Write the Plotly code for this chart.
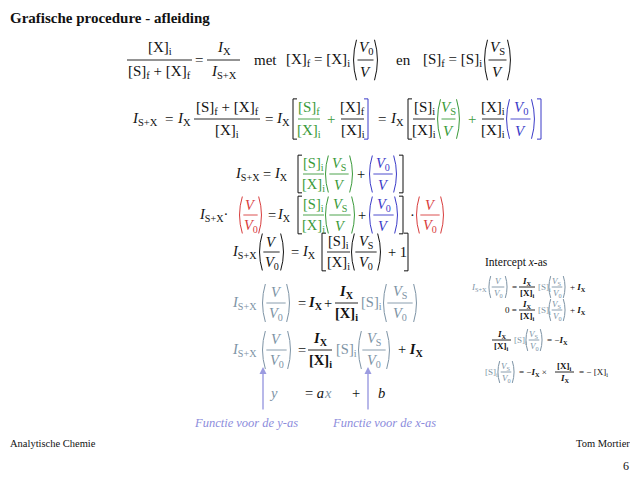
import plotly.graph_objects as go

SERIF = "Liberation Serif, Times New Roman, Times, serif"
PALETTE = {"k": "#111111", "g": "#3a9a3a", "b": "#3a3ac8", "r": "#d83c3c",
           "s": "#7d93a5", "p": "#8c8cdc"}

# building blocks of the formulas
IX = "<i>I</i><sub>X</sub>"
ISX = "<i>I</i><sub>S+X</sub>"
Xi, Xf = "[X]<sub>i</sub>", "[X]<sub>f</sub>"
Si, Sf = "[S]<sub>i</sub>", "[S]<sub>f</sub>"
V, V0, VS = "<i>V</i>", "<i>V</i><sub>0</sub>", "<i>V</i><sub>S</sub>"
bIX, bXi = "<b>" + IX + "</b>", "<b>" + Xi + "</b>"

title = "<b>Grafische procedure - afleiding</b>"
footer_left = "Analytische Chemie"
footer_right = "Tom Mortier"
page_no = "6"
axis_labels = ["Functie voor de y-as", "Functie voor de x-as"]
intercept_title = "Intercept <i>x</i>-as"

# rows: tokens ("a|b" = fraction, "(a|b)" = fraction in brackets, "[" / "]" = big brackets)
row1 = [f"{Xi}|{Sf} + {Xf}", "=", f"{IX}|{ISX}", "met", f"{Xf} = {Xi}", f"({V0}|{V})",
        "en", f"{Sf} = {Si}", f"({VS}|{V})"]
row2 = [ISX, "=", IX, f"{Sf} + {Xf}|{Xi}", "=", IX, "[", f"{Sf}|{Xi}", "+", f"{Xf}|{Xi}", "]",
        "=", IX, "[", f"{Si}|{Xi}", f"({VS}|{V})", "+", f"{Xi}|{Xi}", f"({V0}|{V})", "]"]
row3 = [ISX, "=", IX, "[", f"{Si}|{Xi}", f"({VS}|{V})", "+", f"({V0}|{V})", "]"]
row4 = [ISX + "·", f"({V}|{V0})", "=", IX, "[", f"{Si}|{Xi}", f"({VS}|{V})", "+", f"({V0}|{V})",
        "]", "·", f"({V}|{V0})"]
row5 = [ISX, f"({V}|{V0})", "=", IX, "[", f"{Si}|{Xi}", f"({VS}|{V0})", "+ 1", "]"]
row6 = [ISX, f"({V}|{V0})", "=", bIX, "+", f"{bIX}|{bXi}", Si, f"({VS}|{V0})"]
row7 = [ISX, f"({V}|{V0})", "=", f"{bIX}|{bXi}", Si, f"({VS}|{V0})", "+ " + bIX]
row8 = ["<i>y</i>", "= <i>a</i>", "<i>x</i>", "+", "<i>b</i>"]
side1 = [ISX, f"({V}|{V0})", "=", f"{bIX}|{bXi}", Si, f"({VS}|{V0})", "+ " + bIX]
side2 = ["0 =", f"{bIX}|{bXi}", Si, f"({VS}|{V0})", "+ " + bIX]
side3 = [f"{bIX}|{bXi}", Si, f"({VS}|{V0})", "= −" + bIX]
side4 = [Si, f"({VS}|{V0})", "= −" + bIX + " ×", f"{bXi}|{bIX}", "= − " + Xi]

# x positions (pixels) and colours of the tokens
row1_x = [(127, 192), 193, (207, 240), 252, 284, (352, 379), 394, 421, (483, 512)]
row2_x = [130, 163, 175, (194, 260), 263, 274, 293, (298, 320), 325, (341, 364), 368,
          376, 388, 408, (413, 435), (436, 461), 466, (482, 504), (505, 536), 541]
row3_x = [233, 261, 272, 298, (303, 324), (324, 354), 355, (368, 398), 403]
row4_x = [197, (238, 263), 266, 275, 298, (303, 324), (324, 356), 356, (368, 399), 403, 408,
          (415, 445)]
row5_x = [230, (258, 285), 289, 300, 322, (327, 350), (350, 382), 386, 408]
row6_x = [230, (261, 291), 296, 306, 322, (335, 358), 359, (382, 418)]
row7_x = [230, (261, 292), 296, (308, 332), 334, (357, 391), 396]
row8_x = [267, 303, 322, 350, 376]
side1_x = [469, (488, 508), 510, (519, 535), 536, (548, 566), 568]
side2_x = [503, (519, 535), 536, (548, 566), 568]
side3_x = [(492, 511), 512, (525, 543), 545]
side4_x = [483, (497, 515), 517, (555, 574), 577]

row1_c = ["k"] * 9
row2_c = list("kkkkkkkggkbkkkkggkbbk")
row3_c = list("kkkkggkbk")
row4_c = list("krkkkggkbkkr")
row5_c = ["k"] * 9
row6_c = list("sskkkkss")
row7_c = list("sskkssk")
row8_c = list("skskk")
side1_c = list("sskkssk")
side2_c = list("kkssk")
side3_c = list("kssk")
side4_c = list("sskkk")

annotations = []
shapes = []


def put(x, y, s, size, color, anchor="left"):
    annotations.append(dict(x=x, y=y, xref="x", yref="y", text=s, showarrow=False,
                            xanchor=anchor, yanchor="middle",
                            font=dict(family=SERIF, size=size, color=color)))


def frac(x0, x1, y, num, den, size, color, gap):
    put((x0 + x1) / 2, y - gap, num, size, color, "center")
    put((x0 + x1) / 2, y + gap, den, size, color, "center")
    shapes.append(dict(type="line", xref="x", yref="y", x0=x0, x1=x1, y0=y, y1=y,
                       line=dict(color=color, width=0.9)))


def paren(x0, x1, y, num, den, size, color, gap):
    h = gap * 2 + size * 1.1
    w = size * 0.3
    for xa, xb in ((x0 + w, x0 - w * 0.3), (x1 - w, x1 + w * 0.3)):
        shapes.append(dict(type="path", xref="x", yref="y",
                           path=f"M {xa},{y - h / 2} Q {xb},{y} {xa},{y + h / 2}",
                           line=dict(color=color, width=1.0)))
    frac(x0 + w + 1, x1 - w - 1, y, num, den, size, color, gap)


def bracket(x, y, side, size, color, gap):
    h = gap * 2 + size * 1.15
    t = 4 if side == "[" else -4
    shapes.append(dict(type="path", xref="x", yref="y",
                       path=f"M {x + t},{y - h / 2} L {x},{y - h / 2} L {x},{y + h / 2} L {x + t},{y + h / 2}",
                       line=dict(color=color, width=1.0)))


def draw_row(y, tokens, xs, cols, size=15, gap=11):
    for tok, x, c in zip(tokens, xs, cols):
        col = PALETTE[c]
        if tok in ("[", "]"):
            bracket(x, y, tok, size, col, gap)
        elif tok.startswith("(") and "|" in tok:
            num, den = tok[1:-1].split("|")
            paren(x[0], x[1], y, num, den, size, col, gap)
        elif "|" in tok:
            num, den = tok.split("|")
            frac(x[0], x[1], y, num, den, size, col, gap)
        else:
            put(x, y, tok, size, col)


draw_row(60, row1, row1_x, row1_c, 15, 12)
draw_row(119, row2, row2_x, row2_c, 15, 11.5)
draw_row(174, row3, row3_x, row3_c, 14.5, 10.5)
draw_row(215, row4, row4_x, row4_c, 14.5, 10.5)
draw_row(252, row5, row5_x, row5_c, 14.5, 10.5)
draw_row(303, row6, row6_x, row6_c, 14.5, 11)
draw_row(350, row7, row7_x, row7_c, 14.5, 11)
draw_row(393, row8, row8_x, row8_c, 14.5)
draw_row(287, side1, side1_x, side1_c, 9, 6)
draw_row(310, side2, side2_x, side2_c, 9, 6)
draw_row(340, side3, side3_x, side3_c, 9, 6)
draw_row(372, side4, side4_x, side4_c, 9, 6)

put(8, 18, title, 15, PALETTE["k"])
put(483, 262, intercept_title, 11.5, PALETTE["k"])
put(192, 423, "<i>" + axis_labels[0] + "</i>", 12.5, PALETTE["p"])
put(330, 423, "<i>" + axis_labels[1] + "</i>", 12.5, PALETTE["p"])
put(8, 443, footer_left, 10.5, PALETTE["k"])
put(632, 443, footer_right, 10.5, PALETTE["k"], "right")
put(631, 466, page_no, 12, PALETTE["k"], "right")

# arrows pointing to the y- and x-axis quantities
for ax_x in (263, 368):
    annotations.append(dict(x=ax_x, y=367, ax=ax_x, ay=411, xref="x", yref="y",
                            axref="x", ayref="y", text="", showarrow=True,
                            arrowhead=2, arrowsize=1, arrowwidth=1.4,
                            arrowcolor="#9b9be0"))

# the page body has an 8px margin, so the plot covers pixels 8..638 x 8..478
fig = go.Figure()
fig.update_layout(
    width=630, height=470, autosize=False,
    margin=dict(l=0, r=0, t=0, b=0),
    paper_bgcolor="white", plot_bgcolor="white",
    xaxis=dict(range=[8, 638], visible=False, fixedrange=True),
    yaxis=dict(range=[478, 8], visible=False, fixedrange=True),
    annotations=annotations, shapes=shapes, showlegend=False,
)
fig.write_html("out.html")
